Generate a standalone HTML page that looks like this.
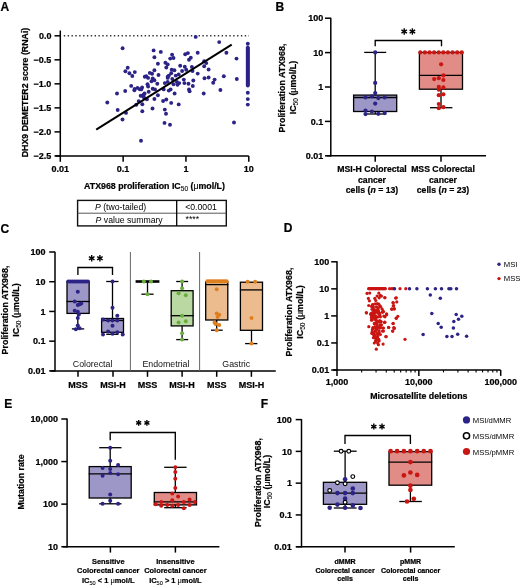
<!DOCTYPE html>
<html><head><meta charset="utf-8"><style>
html,body{margin:0;padding:0;background:#fff;}
svg{display:block;will-change:transform;font-family:"Liberation Sans", sans-serif;}
text[font-weight="bold"]{stroke:#000;stroke-width:0.22;}
tspan[font-weight="normal"]{stroke-width:0.08;}
</style></head><body>
<svg width="520" height="586" viewBox="0 0 520 586">
<rect width="520" height="586" fill="#fff"/>
<text x="0.50" y="10.50" font-size="12" font-weight="bold" text-anchor="start" fill="#000" >A</text>
<line x1="60.30" y1="30.50" x2="60.30" y2="156.60" stroke="#000" stroke-width="1.5" />
<line x1="55.40" y1="155.90" x2="248.80" y2="155.90" stroke="#000" stroke-width="1.5" />
<line x1="54.50" y1="35.80" x2="60.30" y2="35.80" stroke="#000" stroke-width="1.5" />
<text x="51.40" y="39.00" font-size="9.0" font-weight="bold" text-anchor="end" fill="#000" >0.0</text>
<line x1="54.50" y1="59.82" x2="60.30" y2="59.82" stroke="#000" stroke-width="1.5" />
<text x="51.40" y="63.02" font-size="9.0" font-weight="bold" text-anchor="end" fill="#000" >−0.5</text>
<line x1="54.50" y1="83.84" x2="60.30" y2="83.84" stroke="#000" stroke-width="1.5" />
<text x="51.40" y="87.04" font-size="9.0" font-weight="bold" text-anchor="end" fill="#000" >−1.0</text>
<line x1="54.50" y1="107.86" x2="60.30" y2="107.86" stroke="#000" stroke-width="1.5" />
<text x="51.40" y="111.06" font-size="9.0" font-weight="bold" text-anchor="end" fill="#000" >−1.5</text>
<line x1="54.50" y1="131.88" x2="60.30" y2="131.88" stroke="#000" stroke-width="1.5" />
<text x="51.40" y="135.08" font-size="9.0" font-weight="bold" text-anchor="end" fill="#000" >−2.0</text>
<line x1="54.50" y1="155.90" x2="60.30" y2="155.90" stroke="#000" stroke-width="1.5" />
<text x="51.40" y="159.10" font-size="9.0" font-weight="bold" text-anchor="end" fill="#000" >−2.5</text>
<line x1="60.30" y1="155.90" x2="60.30" y2="161.80" stroke="#000" stroke-width="1.5" />
<text x="60.30" y="172.00" font-size="9.0" font-weight="bold" text-anchor="middle" fill="#000" >0.01</text>
<line x1="123.13" y1="155.90" x2="123.13" y2="161.80" stroke="#000" stroke-width="1.5" />
<text x="123.13" y="172.00" font-size="9.0" font-weight="bold" text-anchor="middle" fill="#000" >0.1</text>
<line x1="185.96" y1="155.90" x2="185.96" y2="161.80" stroke="#000" stroke-width="1.5" />
<text x="185.96" y="172.00" font-size="9.0" font-weight="bold" text-anchor="middle" fill="#000" >1</text>
<line x1="248.79" y1="155.90" x2="248.79" y2="161.80" stroke="#000" stroke-width="1.5" />
<text x="248.79" y="172.00" font-size="9.0" font-weight="bold" text-anchor="middle" fill="#000" >10</text>
<text transform="translate(28.20,92.50) rotate(-90)" font-size="8.8" font-weight="bold" text-anchor="middle" fill="#000">DHX9 DEMETER2 score (RNAi)</text>
<text x="154.5" y="188.5" font-size="8.8" font-weight="bold" text-anchor="middle" fill="#000">ATX968 proliferation IC<tspan font-size="6.6" font-weight="normal" dy="2.4">50</tspan><tspan dy="-2.4"> (<tspan font-weight="normal">μ</tspan>mol/L)</tspan></text>
<line x1="63.8" y1="35.8" x2="249" y2="35.8" stroke="#333" stroke-width="1.5" stroke-dasharray="1.4 2.45"/>
<circle cx="122.60" cy="48.30" r="1.95" fill="#2c2387"/>
<circle cx="127.70" cy="67.70" r="1.95" fill="#2c2387"/>
<circle cx="125.40" cy="71.20" r="1.95" fill="#2c2387"/>
<circle cx="129.40" cy="73.20" r="1.95" fill="#2c2387"/>
<circle cx="132.30" cy="76.00" r="1.95" fill="#2c2387"/>
<circle cx="134.80" cy="72.10" r="1.95" fill="#2c2387"/>
<circle cx="144.80" cy="76.70" r="1.95" fill="#2c2387"/>
<circle cx="131.20" cy="85.90" r="1.95" fill="#2c2387"/>
<circle cx="125.20" cy="91.00" r="1.95" fill="#2c2387"/>
<circle cx="134.60" cy="89.00" r="1.95" fill="#2c2387"/>
<circle cx="137.50" cy="87.90" r="1.95" fill="#2c2387"/>
<circle cx="142.10" cy="87.50" r="1.95" fill="#2c2387"/>
<circle cx="134.40" cy="90.20" r="1.95" fill="#2c2387"/>
<circle cx="139.80" cy="89.20" r="1.95" fill="#2c2387"/>
<circle cx="117.00" cy="93.50" r="1.95" fill="#2c2387"/>
<circle cx="107.30" cy="102.50" r="1.95" fill="#2c2387"/>
<circle cx="140.70" cy="95.80" r="1.95" fill="#2c2387"/>
<circle cx="143.80" cy="94.40" r="1.95" fill="#2c2387"/>
<circle cx="138.70" cy="101.10" r="1.95" fill="#2c2387"/>
<circle cx="136.30" cy="104.80" r="1.95" fill="#2c2387"/>
<circle cx="142.30" cy="104.20" r="1.95" fill="#2c2387"/>
<circle cx="117.70" cy="110.00" r="1.95" fill="#2c2387"/>
<circle cx="126.00" cy="112.90" r="1.95" fill="#2c2387"/>
<circle cx="142.30" cy="111.20" r="1.95" fill="#2c2387"/>
<circle cx="122.50" cy="119.50" r="1.95" fill="#2c2387"/>
<circle cx="141.00" cy="140.80" r="1.95" fill="#2c2387"/>
<circle cx="195.70" cy="36.90" r="1.95" fill="#2c2387"/>
<circle cx="153.60" cy="50.40" r="1.95" fill="#2c2387"/>
<circle cx="160.80" cy="51.90" r="1.95" fill="#2c2387"/>
<circle cx="154.40" cy="57.30" r="1.95" fill="#2c2387"/>
<circle cx="172.10" cy="54.80" r="1.95" fill="#2c2387"/>
<circle cx="170.20" cy="58.60" r="1.95" fill="#2c2387"/>
<circle cx="173.50" cy="58.00" r="1.95" fill="#2c2387"/>
<circle cx="185.20" cy="54.20" r="1.95" fill="#2c2387"/>
<circle cx="187.90" cy="53.10" r="1.95" fill="#2c2387"/>
<circle cx="190.80" cy="57.70" r="1.95" fill="#2c2387"/>
<circle cx="189.00" cy="59.80" r="1.95" fill="#2c2387"/>
<circle cx="197.70" cy="52.80" r="1.95" fill="#2c2387"/>
<circle cx="157.90" cy="63.70" r="1.95" fill="#2c2387"/>
<circle cx="165.40" cy="62.70" r="1.95" fill="#2c2387"/>
<circle cx="167.70" cy="64.40" r="1.95" fill="#2c2387"/>
<circle cx="166.30" cy="67.50" r="1.95" fill="#2c2387"/>
<circle cx="154.40" cy="70.20" r="1.95" fill="#2c2387"/>
<circle cx="180.20" cy="65.80" r="1.95" fill="#2c2387"/>
<circle cx="184.80" cy="66.70" r="1.95" fill="#2c2387"/>
<circle cx="186.20" cy="69.80" r="1.95" fill="#2c2387"/>
<circle cx="191.90" cy="66.90" r="1.95" fill="#2c2387"/>
<circle cx="171.70" cy="69.80" r="1.95" fill="#2c2387"/>
<circle cx="174.40" cy="70.20" r="1.95" fill="#2c2387"/>
<circle cx="171.20" cy="73.30" r="1.95" fill="#2c2387"/>
<circle cx="149.80" cy="72.90" r="1.95" fill="#2c2387"/>
<circle cx="152.10" cy="73.80" r="1.95" fill="#2c2387"/>
<circle cx="158.50" cy="75.00" r="1.95" fill="#2c2387"/>
<circle cx="146.30" cy="76.20" r="1.95" fill="#2c2387"/>
<circle cx="148.10" cy="77.90" r="1.95" fill="#2c2387"/>
<circle cx="152.70" cy="78.50" r="1.95" fill="#2c2387"/>
<circle cx="167.70" cy="76.70" r="1.95" fill="#2c2387"/>
<circle cx="175.80" cy="75.60" r="1.95" fill="#2c2387"/>
<circle cx="178.70" cy="74.40" r="1.95" fill="#2c2387"/>
<circle cx="182.10" cy="71.00" r="1.95" fill="#2c2387"/>
<circle cx="197.70" cy="73.60" r="1.95" fill="#2c2387"/>
<circle cx="192.50" cy="71.00" r="1.95" fill="#2c2387"/>
<circle cx="183.80" cy="79.60" r="1.95" fill="#2c2387"/>
<circle cx="172.30" cy="79.00" r="1.95" fill="#2c2387"/>
<circle cx="154.40" cy="80.20" r="1.95" fill="#2c2387"/>
<circle cx="151.50" cy="81.30" r="1.95" fill="#2c2387"/>
<circle cx="157.30" cy="83.70" r="1.95" fill="#2c2387"/>
<circle cx="147.50" cy="84.20" r="1.95" fill="#2c2387"/>
<circle cx="148.10" cy="86.50" r="1.95" fill="#2c2387"/>
<circle cx="141.20" cy="89.40" r="1.95" fill="#2c2387"/>
<circle cx="148.70" cy="91.70" r="1.95" fill="#2c2387"/>
<circle cx="144.60" cy="93.50" r="1.95" fill="#2c2387"/>
<circle cx="142.30" cy="95.80" r="1.95" fill="#2c2387"/>
<circle cx="144.00" cy="97.50" r="1.95" fill="#2c2387"/>
<circle cx="152.70" cy="88.80" r="1.95" fill="#2c2387"/>
<circle cx="155.00" cy="89.40" r="1.95" fill="#2c2387"/>
<circle cx="157.90" cy="95.20" r="1.95" fill="#2c2387"/>
<circle cx="154.40" cy="99.00" r="1.95" fill="#2c2387"/>
<circle cx="146.90" cy="99.20" r="1.95" fill="#2c2387"/>
<circle cx="152.50" cy="108.50" r="1.95" fill="#2c2387"/>
<circle cx="163.70" cy="89.40" r="1.95" fill="#2c2387"/>
<circle cx="164.80" cy="83.10" r="1.95" fill="#2c2387"/>
<circle cx="167.70" cy="81.90" r="1.95" fill="#2c2387"/>
<circle cx="167.70" cy="77.90" r="1.95" fill="#2c2387"/>
<circle cx="173.50" cy="84.20" r="1.95" fill="#2c2387"/>
<circle cx="176.90" cy="81.90" r="1.95" fill="#2c2387"/>
<circle cx="179.20" cy="83.10" r="1.95" fill="#2c2387"/>
<circle cx="177.50" cy="84.80" r="1.95" fill="#2c2387"/>
<circle cx="184.40" cy="83.10" r="1.95" fill="#2c2387"/>
<circle cx="188.50" cy="83.70" r="1.95" fill="#2c2387"/>
<circle cx="193.30" cy="80.50" r="1.95" fill="#2c2387"/>
<circle cx="192.80" cy="86.00" r="1.95" fill="#2c2387"/>
<circle cx="189.00" cy="89.40" r="1.95" fill="#2c2387"/>
<circle cx="189.60" cy="91.20" r="1.95" fill="#2c2387"/>
<circle cx="168.80" cy="90.60" r="1.95" fill="#2c2387"/>
<circle cx="170.60" cy="89.40" r="1.95" fill="#2c2387"/>
<circle cx="174.60" cy="93.50" r="1.95" fill="#2c2387"/>
<circle cx="163.10" cy="101.00" r="1.95" fill="#2c2387"/>
<circle cx="166.30" cy="99.50" r="1.95" fill="#2c2387"/>
<circle cx="171.20" cy="102.90" r="1.95" fill="#2c2387"/>
<circle cx="178.70" cy="104.40" r="1.95" fill="#2c2387"/>
<circle cx="164.80" cy="109.60" r="1.95" fill="#2c2387"/>
<circle cx="166.00" cy="113.70" r="1.95" fill="#2c2387"/>
<circle cx="164.50" cy="122.90" r="1.95" fill="#2c2387"/>
<circle cx="170.00" cy="124.80" r="1.95" fill="#2c2387"/>
<circle cx="168.80" cy="75.60" r="1.95" fill="#2c2387"/>
<circle cx="219.20" cy="42.10" r="1.95" fill="#2c2387"/>
<circle cx="226.40" cy="52.70" r="1.95" fill="#2c2387"/>
<circle cx="236.50" cy="58.60" r="1.95" fill="#2c2387"/>
<circle cx="204.20" cy="61.20" r="1.95" fill="#2c2387"/>
<circle cx="206.30" cy="63.10" r="1.95" fill="#2c2387"/>
<circle cx="204.20" cy="66.30" r="1.95" fill="#2c2387"/>
<circle cx="208.60" cy="69.50" r="1.95" fill="#2c2387"/>
<circle cx="223.80" cy="76.20" r="1.95" fill="#2c2387"/>
<circle cx="204.50" cy="78.20" r="1.95" fill="#2c2387"/>
<circle cx="208.60" cy="77.50" r="1.95" fill="#2c2387"/>
<circle cx="214.60" cy="79.60" r="1.95" fill="#2c2387"/>
<circle cx="236.80" cy="79.00" r="1.95" fill="#2c2387"/>
<circle cx="213.20" cy="82.80" r="1.95" fill="#2c2387"/>
<circle cx="220.40" cy="90.00" r="1.95" fill="#2c2387"/>
<circle cx="203.70" cy="93.50" r="1.95" fill="#2c2387"/>
<circle cx="234.00" cy="122.50" r="1.95" fill="#2c2387"/>
<circle cx="247.80" cy="92.70" r="1.95" fill="#2c2387"/>
<circle cx="247.80" cy="99.10" r="1.95" fill="#2c2387"/>
<circle cx="247.80" cy="104.60" r="1.95" fill="#2c2387"/>
<circle cx="247.80" cy="43.70" r="1.95" fill="#2c2387"/>
<circle cx="247.80" cy="47.60" r="1.95" fill="#2c2387"/>
<circle cx="247.80" cy="48.60" r="1.95" fill="#2c2387"/>
<circle cx="247.80" cy="49.60" r="1.95" fill="#2c2387"/>
<circle cx="247.80" cy="50.60" r="1.95" fill="#2c2387"/>
<circle cx="247.80" cy="51.60" r="1.95" fill="#2c2387"/>
<circle cx="247.80" cy="52.60" r="1.95" fill="#2c2387"/>
<circle cx="247.80" cy="53.60" r="1.95" fill="#2c2387"/>
<circle cx="247.80" cy="54.60" r="1.95" fill="#2c2387"/>
<circle cx="247.80" cy="55.60" r="1.95" fill="#2c2387"/>
<circle cx="247.80" cy="56.60" r="1.95" fill="#2c2387"/>
<circle cx="247.80" cy="57.60" r="1.95" fill="#2c2387"/>
<circle cx="247.80" cy="58.60" r="1.95" fill="#2c2387"/>
<circle cx="247.80" cy="59.60" r="1.95" fill="#2c2387"/>
<circle cx="247.80" cy="60.60" r="1.95" fill="#2c2387"/>
<circle cx="247.80" cy="61.60" r="1.95" fill="#2c2387"/>
<circle cx="247.80" cy="62.60" r="1.95" fill="#2c2387"/>
<circle cx="247.80" cy="63.60" r="1.95" fill="#2c2387"/>
<circle cx="247.80" cy="64.60" r="1.95" fill="#2c2387"/>
<circle cx="247.80" cy="65.60" r="1.95" fill="#2c2387"/>
<circle cx="247.80" cy="66.60" r="1.95" fill="#2c2387"/>
<circle cx="247.80" cy="67.60" r="1.95" fill="#2c2387"/>
<circle cx="247.80" cy="68.60" r="1.95" fill="#2c2387"/>
<circle cx="247.80" cy="69.60" r="1.95" fill="#2c2387"/>
<circle cx="247.80" cy="70.60" r="1.95" fill="#2c2387"/>
<circle cx="247.80" cy="71.60" r="1.95" fill="#2c2387"/>
<circle cx="247.80" cy="72.60" r="1.95" fill="#2c2387"/>
<circle cx="247.80" cy="73.60" r="1.95" fill="#2c2387"/>
<circle cx="247.80" cy="74.60" r="1.95" fill="#2c2387"/>
<circle cx="247.80" cy="75.60" r="1.95" fill="#2c2387"/>
<circle cx="247.80" cy="76.60" r="1.95" fill="#2c2387"/>
<circle cx="247.80" cy="77.60" r="1.95" fill="#2c2387"/>
<circle cx="247.80" cy="78.60" r="1.95" fill="#2c2387"/>
<circle cx="247.80" cy="79.60" r="1.95" fill="#2c2387"/>
<circle cx="247.80" cy="80.60" r="1.95" fill="#2c2387"/>
<circle cx="247.80" cy="81.60" r="1.95" fill="#2c2387"/>
<circle cx="247.80" cy="82.60" r="1.95" fill="#2c2387"/>
<circle cx="247.80" cy="83.60" r="1.95" fill="#2c2387"/>
<circle cx="247.80" cy="84.60" r="1.95" fill="#2c2387"/>
<circle cx="247.80" cy="85.60" r="1.95" fill="#2c2387"/>
<line x1="96.20" y1="129.60" x2="231.70" y2="44.70" stroke="#000" stroke-width="2.0" />
<rect x="77.6" y="200.4" width="148.7" height="25.5" fill="none" stroke="#111" stroke-width="1.4"/>
<line x1="77.60" y1="213.20" x2="226.30" y2="213.20" stroke="#444" stroke-width="0.9" />
<line x1="176.70" y1="200.40" x2="176.70" y2="225.90" stroke="#000" stroke-width="1.3" />
<text x="95" y="210.3" font-size="8.7" text-anchor="start" fill="#000"><tspan font-style="italic">P</tspan> (two-tailed)</text>
<text x="95.6" y="223" font-size="8.7" text-anchor="start" fill="#000"><tspan font-style="italic">P</tspan> value summary</text>
<text x="201.00" y="210.30" font-size="8.7" font-weight="normal" text-anchor="middle" fill="#000" >&lt;0.0001</text>
<text x="185.50" y="221.50" font-size="8.7" font-weight="normal" text-anchor="start" fill="#000" >****</text>
<text x="275.50" y="10.50" font-size="12" font-weight="bold" text-anchor="start" fill="#000" >B</text>
<line x1="330.80" y1="17.70" x2="330.80" y2="156.50" stroke="#000" stroke-width="1.5" />
<line x1="327.00" y1="155.80" x2="486.00" y2="155.80" stroke="#000" stroke-width="1.5" />
<line x1="325.00" y1="18.20" x2="330.80" y2="18.20" stroke="#000" stroke-width="1.5" />
<text x="323.30" y="21.40" font-size="9.0" font-weight="bold" text-anchor="end" fill="#000" >100</text>
<line x1="325.00" y1="52.60" x2="330.80" y2="52.60" stroke="#000" stroke-width="1.5" />
<text x="323.30" y="55.80" font-size="9.0" font-weight="bold" text-anchor="end" fill="#000" >10</text>
<line x1="325.00" y1="87.00" x2="330.80" y2="87.00" stroke="#000" stroke-width="1.5" />
<text x="323.30" y="90.20" font-size="9.0" font-weight="bold" text-anchor="end" fill="#000" >1</text>
<line x1="325.00" y1="121.40" x2="330.80" y2="121.40" stroke="#000" stroke-width="1.5" />
<text x="323.30" y="124.60" font-size="9.0" font-weight="bold" text-anchor="end" fill="#000" >0.1</text>
<line x1="325.00" y1="155.80" x2="330.80" y2="155.80" stroke="#000" stroke-width="1.5" />
<text x="323.30" y="159.00" font-size="9.0" font-weight="bold" text-anchor="end" fill="#000" >0.01</text>
<line x1="375.20" y1="155.80" x2="375.20" y2="161.70" stroke="#000" stroke-width="1.5" />
<line x1="441.00" y1="155.80" x2="441.00" y2="161.70" stroke="#000" stroke-width="1.5" />
<text transform="translate(285.10,88.00) rotate(-90)" font-size="8.9" font-weight="bold" text-anchor="middle" fill="#000">Proliferation ATX968,</text>
<text transform="translate(295.5,87.6) rotate(-90)" font-size="8.9" font-weight="bold" text-anchor="middle" fill="#000">IC<tspan font-size="6.6" font-weight="normal" dy="2.4">50</tspan><tspan dy="-2.4"> (<tspan font-weight="normal">μ</tspan>mol/L)</tspan></text>
<text x="372.00" y="172.00" font-size="8.7" font-weight="bold" text-anchor="middle" fill="#000" >MSI-H Colorectal</text>
<text x="372.00" y="182.70" font-size="8.7" font-weight="bold" text-anchor="middle" fill="#000" >cancer</text>
<text x="372" y="192.7" font-size="8.7" font-weight="bold" text-anchor="middle" fill="#000">cells (<tspan font-style="italic">n</tspan> = 13)</text>
<text x="443.00" y="172.00" font-size="8.7" font-weight="bold" text-anchor="middle" fill="#000" >MSS Colorectal</text>
<text x="443.00" y="182.70" font-size="8.7" font-weight="bold" text-anchor="middle" fill="#000" >cancer</text>
<text x="443" y="192.7" font-size="8.7" font-weight="bold" text-anchor="middle" fill="#000">cells (<tspan font-style="italic">n</tspan> = 23)</text>
<line x1="375.20" y1="52.40" x2="375.20" y2="95.10" stroke="#000" stroke-width="1.3" />
<line x1="364.20" y1="52.40" x2="386.20" y2="52.40" stroke="#000" stroke-width="1.3" />
<line x1="375.20" y1="111.50" x2="375.20" y2="114.00" stroke="#000" stroke-width="1.3" />
<line x1="364.20" y1="114.00" x2="386.20" y2="114.00" stroke="#000" stroke-width="1.3" />
<rect x="353.60" y="95.10" width="43.10" height="16.40" fill="#9d97c7" stroke="#000" stroke-width="1.3"/>
<line x1="353.10" y1="97.50" x2="397.20" y2="97.50" stroke="#000" stroke-width="1.3" />
<circle cx="375.20" cy="52.40" r="2.1" fill="#2c2387"/>
<circle cx="375.20" cy="82.90" r="2.1" fill="#2c2387"/>
<circle cx="375.20" cy="93.10" r="2.1" fill="#2c2387"/>
<circle cx="365.50" cy="97.40" r="2.1" fill="#2c2387"/>
<circle cx="371.90" cy="96.40" r="2.1" fill="#2c2387"/>
<circle cx="378.30" cy="98.10" r="2.1" fill="#2c2387"/>
<circle cx="384.70" cy="97.40" r="2.1" fill="#2c2387"/>
<circle cx="375.20" cy="103.60" r="2.1" fill="#2c2387"/>
<circle cx="365.50" cy="110.50" r="2.1" fill="#2c2387"/>
<circle cx="371.90" cy="111.50" r="2.1" fill="#2c2387"/>
<circle cx="365.50" cy="114.10" r="2.1" fill="#2c2387"/>
<circle cx="378.30" cy="113.80" r="2.1" fill="#2c2387"/>
<circle cx="384.70" cy="113.10" r="2.1" fill="#2c2387"/>
<line x1="441.00" y1="89.20" x2="441.00" y2="107.70" stroke="#000" stroke-width="1.3" />
<line x1="430.00" y1="107.70" x2="452.40" y2="107.70" stroke="#000" stroke-width="1.3" />
<rect x="419.40" y="52.40" width="43.10" height="36.80" fill="#e28c87" stroke="#000" stroke-width="1.3"/>
<line x1="418.90" y1="75.40" x2="463.00" y2="75.40" stroke="#000" stroke-width="1.3" />
<circle cx="420.30" cy="52.40" r="2.1" fill="#c91613"/>
<circle cx="424.91" cy="52.40" r="2.1" fill="#c91613"/>
<circle cx="429.52" cy="52.40" r="2.1" fill="#c91613"/>
<circle cx="434.13" cy="52.40" r="2.1" fill="#c91613"/>
<circle cx="438.74" cy="52.40" r="2.1" fill="#c91613"/>
<circle cx="443.35" cy="52.40" r="2.1" fill="#c91613"/>
<circle cx="447.96" cy="52.40" r="2.1" fill="#c91613"/>
<circle cx="452.57" cy="52.40" r="2.1" fill="#c91613"/>
<circle cx="457.18" cy="52.40" r="2.1" fill="#c91613"/>
<circle cx="461.79" cy="52.40" r="2.1" fill="#c91613"/>
<circle cx="441.10" cy="64.30" r="2.1" fill="#c91613"/>
<circle cx="434.20" cy="79.10" r="2.1" fill="#c91613"/>
<circle cx="438.80" cy="78.20" r="2.1" fill="#c91613"/>
<circle cx="443.40" cy="75.40" r="2.1" fill="#c91613"/>
<circle cx="443.40" cy="80.00" r="2.1" fill="#c91613"/>
<circle cx="438.80" cy="86.90" r="2.1" fill="#c91613"/>
<circle cx="443.40" cy="87.40" r="2.1" fill="#c91613"/>
<circle cx="438.80" cy="89.70" r="2.1" fill="#c91613"/>
<circle cx="438.80" cy="95.20" r="2.1" fill="#c91613"/>
<circle cx="443.40" cy="94.30" r="2.1" fill="#c91613"/>
<circle cx="438.80" cy="104.00" r="2.1" fill="#c91613"/>
<circle cx="443.40" cy="107.20" r="2.1" fill="#c91613"/>
<circle cx="438.80" cy="108.20" r="2.1" fill="#c91613"/>
<polyline points="375.20,46.30 375.20,40.50 441.50,40.50 441.50,46.30" fill="none" stroke="#000" stroke-width="1.35"/>
<line x1="404.20" y1="28.30" x2="404.20" y2="34.70" stroke="#000" stroke-width="1.4" />
<line x1="401.43" y1="29.90" x2="406.97" y2="33.10" stroke="#000" stroke-width="1.4" />
<line x1="401.43" y1="33.10" x2="406.97" y2="29.90" stroke="#000" stroke-width="1.4" />
<line x1="412.40" y1="28.30" x2="412.40" y2="34.70" stroke="#000" stroke-width="1.4" />
<line x1="409.63" y1="29.90" x2="415.17" y2="33.10" stroke="#000" stroke-width="1.4" />
<line x1="409.63" y1="33.10" x2="415.17" y2="29.90" stroke="#000" stroke-width="1.4" />
<text x="0.50" y="232.50" font-size="12" font-weight="bold" text-anchor="start" fill="#000" >C</text>
<line x1="55.00" y1="251.80" x2="55.00" y2="371.60" stroke="#000" stroke-width="1.5" />
<line x1="50.50" y1="370.90" x2="275.80" y2="370.90" stroke="#000" stroke-width="1.5" />
<line x1="49.20" y1="252.00" x2="55.00" y2="252.00" stroke="#000" stroke-width="1.5" />
<text x="45.60" y="255.20" font-size="9.0" font-weight="bold" text-anchor="end" fill="#000" >100</text>
<line x1="49.20" y1="281.72" x2="55.00" y2="281.72" stroke="#000" stroke-width="1.5" />
<text x="45.60" y="284.92" font-size="9.0" font-weight="bold" text-anchor="end" fill="#000" >10</text>
<line x1="49.20" y1="311.44" x2="55.00" y2="311.44" stroke="#000" stroke-width="1.5" />
<text x="45.60" y="314.64" font-size="9.0" font-weight="bold" text-anchor="end" fill="#000" >1</text>
<line x1="49.20" y1="341.16" x2="55.00" y2="341.16" stroke="#000" stroke-width="1.5" />
<text x="45.60" y="344.36" font-size="9.0" font-weight="bold" text-anchor="end" fill="#000" >0.1</text>
<line x1="49.20" y1="370.88" x2="55.00" y2="370.88" stroke="#000" stroke-width="1.5" />
<text x="45.60" y="374.08" font-size="9.0" font-weight="bold" text-anchor="end" fill="#000" >0.01</text>
<line x1="78.00" y1="370.90" x2="78.00" y2="376.80" stroke="#000" stroke-width="1.5" />
<text x="78.00" y="388.20" font-size="9.0" font-weight="bold" text-anchor="middle" fill="#000" >MSS</text>
<line x1="113.00" y1="370.90" x2="113.00" y2="376.80" stroke="#000" stroke-width="1.5" />
<text x="113.00" y="388.20" font-size="9.0" font-weight="bold" text-anchor="middle" fill="#000" >MSI-H</text>
<line x1="147.50" y1="370.90" x2="147.50" y2="376.80" stroke="#000" stroke-width="1.5" />
<text x="147.50" y="388.20" font-size="9.0" font-weight="bold" text-anchor="middle" fill="#000" >MSS</text>
<line x1="182.10" y1="370.90" x2="182.10" y2="376.80" stroke="#000" stroke-width="1.5" />
<text x="182.10" y="388.20" font-size="9.0" font-weight="bold" text-anchor="middle" fill="#000" >MSI-H</text>
<line x1="216.70" y1="370.90" x2="216.70" y2="376.80" stroke="#000" stroke-width="1.5" />
<text x="216.70" y="388.20" font-size="9.0" font-weight="bold" text-anchor="middle" fill="#000" >MSS</text>
<line x1="251.40" y1="370.90" x2="251.40" y2="376.80" stroke="#000" stroke-width="1.5" />
<text x="251.40" y="388.20" font-size="9.0" font-weight="bold" text-anchor="middle" fill="#000" >MSI-H</text>
<line x1="130.40" y1="252.00" x2="130.40" y2="370.90" stroke="#666" stroke-width="1.0" />
<line x1="199.60" y1="252.00" x2="199.60" y2="370.90" stroke="#666" stroke-width="1.0" />
<text x="92.60" y="367.40" font-size="8.8" font-weight="normal" text-anchor="middle" fill="#111" >Colorectal</text>
<text x="165.90" y="367.40" font-size="8.8" font-weight="normal" text-anchor="middle" fill="#111" >Endometrial</text>
<text x="236.30" y="367.40" font-size="8.8" font-weight="normal" text-anchor="middle" fill="#111" >Gastric</text>
<text transform="translate(7.60,310.00) rotate(-90)" font-size="8.9" font-weight="bold" text-anchor="middle" fill="#000">Proliferation ATX968,</text>
<text transform="translate(18.5,310) rotate(-90)" font-size="8.9" font-weight="bold" text-anchor="middle" fill="#000">IC<tspan font-size="6.6" font-weight="normal" dy="2.4">50</tspan><tspan dy="-2.4"> (<tspan font-weight="normal">μ</tspan>mol/L)</tspan></text>
<line x1="77.80" y1="313.40" x2="77.80" y2="328.90" stroke="#000" stroke-width="1.3" />
<line x1="71.90" y1="328.90" x2="84.20" y2="328.90" stroke="#000" stroke-width="1.3" />
<rect x="67.00" y="281.50" width="22.15" height="31.90" fill="#9d97c7" stroke="#000" stroke-width="1.3"/>
<line x1="66.50" y1="301.50" x2="89.65" y2="301.50" stroke="#000" stroke-width="1.3" />
<circle cx="68.30" cy="281.40" r="2.0" fill="#2c2387"/>
<circle cx="70.26" cy="281.40" r="2.0" fill="#2c2387"/>
<circle cx="72.22" cy="281.40" r="2.0" fill="#2c2387"/>
<circle cx="74.18" cy="281.40" r="2.0" fill="#2c2387"/>
<circle cx="76.14" cy="281.40" r="2.0" fill="#2c2387"/>
<circle cx="78.10" cy="281.40" r="2.0" fill="#2c2387"/>
<circle cx="80.06" cy="281.40" r="2.0" fill="#2c2387"/>
<circle cx="82.02" cy="281.40" r="2.0" fill="#2c2387"/>
<circle cx="83.98" cy="281.40" r="2.0" fill="#2c2387"/>
<circle cx="85.94" cy="281.40" r="2.0" fill="#2c2387"/>
<circle cx="87.90" cy="281.40" r="2.0" fill="#2c2387"/>
<circle cx="77.80" cy="291.80" r="2.0" fill="#2c2387"/>
<circle cx="74.70" cy="301.50" r="2.0" fill="#2c2387"/>
<circle cx="77.80" cy="305.10" r="2.0" fill="#2c2387"/>
<circle cx="81.20" cy="303.50" r="2.0" fill="#2c2387"/>
<circle cx="79.60" cy="304.20" r="2.0" fill="#2c2387"/>
<circle cx="74.70" cy="310.80" r="2.0" fill="#2c2387"/>
<circle cx="77.80" cy="311.80" r="2.0" fill="#2c2387"/>
<circle cx="78.80" cy="314.60" r="2.0" fill="#2c2387"/>
<circle cx="77.80" cy="318.00" r="2.0" fill="#2c2387"/>
<circle cx="77.80" cy="325.40" r="2.0" fill="#2c2387"/>
<circle cx="75.80" cy="329.20" r="2.0" fill="#2c2387"/>
<circle cx="79.60" cy="328.20" r="2.0" fill="#2c2387"/>
<line x1="112.50" y1="281.50" x2="112.50" y2="318.50" stroke="#000" stroke-width="1.3" />
<line x1="106.20" y1="281.50" x2="118.50" y2="281.50" stroke="#000" stroke-width="1.3" />
<line x1="112.50" y1="332.30" x2="112.50" y2="334.30" stroke="#000" stroke-width="1.3" />
<line x1="106.20" y1="334.30" x2="118.50" y2="334.30" stroke="#000" stroke-width="1.3" />
<rect x="101.60" y="318.50" width="21.90" height="13.80" fill="#9d97c7" stroke="#000" stroke-width="1.3"/>
<line x1="101.10" y1="320.50" x2="124.00" y2="320.50" stroke="#000" stroke-width="1.3" />
<circle cx="112.50" cy="281.50" r="2.0" fill="#2c2387"/>
<circle cx="112.50" cy="307.70" r="2.0" fill="#2c2387"/>
<circle cx="117.30" cy="315.80" r="2.0" fill="#2c2387"/>
<circle cx="103.00" cy="319.50" r="2.0" fill="#2c2387"/>
<circle cx="108.10" cy="320.50" r="2.0" fill="#2c2387"/>
<circle cx="112.50" cy="320.50" r="2.0" fill="#2c2387"/>
<circle cx="117.30" cy="320.50" r="2.0" fill="#2c2387"/>
<circle cx="112.50" cy="325.70" r="2.0" fill="#2c2387"/>
<circle cx="108.10" cy="331.50" r="2.0" fill="#2c2387"/>
<circle cx="117.30" cy="332.30" r="2.0" fill="#2c2387"/>
<circle cx="103.00" cy="334.60" r="2.0" fill="#2c2387"/>
<circle cx="112.50" cy="333.80" r="2.0" fill="#2c2387"/>
<circle cx="122.70" cy="334.60" r="2.0" fill="#2c2387"/>
<polyline points="77.90,274.90 77.90,267.50 112.50,267.50 112.50,274.90" fill="none" stroke="#000" stroke-width="1.35"/>
<line x1="91.70" y1="255.10" x2="91.70" y2="261.50" stroke="#000" stroke-width="1.4" />
<line x1="88.93" y1="256.70" x2="94.47" y2="259.90" stroke="#000" stroke-width="1.4" />
<line x1="88.93" y1="259.90" x2="94.47" y2="256.70" stroke="#000" stroke-width="1.4" />
<line x1="99.90" y1="255.10" x2="99.90" y2="261.50" stroke="#000" stroke-width="1.4" />
<line x1="97.13" y1="256.70" x2="102.67" y2="259.90" stroke="#000" stroke-width="1.4" />
<line x1="97.13" y1="259.90" x2="102.67" y2="256.70" stroke="#000" stroke-width="1.4" />
<line x1="147.50" y1="281.50" x2="147.50" y2="294.20" stroke="#000" stroke-width="1.3" />
<line x1="141.40" y1="294.20" x2="153.60" y2="294.20" stroke="#000" stroke-width="1.3" />
<line x1="135.60" y1="281.50" x2="159.40" y2="281.50" stroke="#000" stroke-width="2.6" />
<circle cx="143.80" cy="281.50" r="2.0" fill="#6aae3e"/>
<circle cx="151.00" cy="281.50" r="2.0" fill="#6aae3e"/>
<circle cx="147.50" cy="294.20" r="2.0" fill="#6aae3e"/>
<line x1="182.10" y1="281.50" x2="182.10" y2="290.70" stroke="#000" stroke-width="1.3" />
<line x1="176.20" y1="281.50" x2="188.20" y2="281.50" stroke="#000" stroke-width="1.3" />
<line x1="182.10" y1="325.90" x2="182.10" y2="339.60" stroke="#000" stroke-width="1.3" />
<line x1="176.20" y1="339.60" x2="188.20" y2="339.60" stroke="#000" stroke-width="1.3" />
<rect x="171.20" y="290.70" width="21.90" height="35.20" fill="#bad8a2" stroke="#000" stroke-width="1.3"/>
<line x1="170.70" y1="315.70" x2="193.60" y2="315.70" stroke="#000" stroke-width="1.3" />
<circle cx="182.10" cy="281.50" r="2.0" fill="#6aae3e"/>
<circle cx="182.10" cy="288.30" r="2.0" fill="#6aae3e"/>
<circle cx="178.60" cy="293.20" r="2.0" fill="#6aae3e"/>
<circle cx="185.80" cy="295.20" r="2.0" fill="#6aae3e"/>
<circle cx="182.10" cy="315.70" r="2.0" fill="#6aae3e"/>
<circle cx="178.60" cy="322.50" r="2.0" fill="#6aae3e"/>
<circle cx="185.80" cy="321.20" r="2.0" fill="#6aae3e"/>
<circle cx="182.10" cy="333.30" r="2.0" fill="#6aae3e"/>
<circle cx="182.10" cy="339.60" r="2.0" fill="#6aae3e"/>
<line x1="216.70" y1="320.00" x2="216.70" y2="330.20" stroke="#000" stroke-width="1.3" />
<line x1="211.00" y1="330.20" x2="222.70" y2="330.20" stroke="#000" stroke-width="1.3" />
<rect x="205.70" y="281.60" width="22.10" height="38.40" fill="#ecbb8e" stroke="#000" stroke-width="1.3"/>
<line x1="205.20" y1="284.60" x2="228.30" y2="284.60" stroke="#000" stroke-width="1.3" />
<circle cx="207.40" cy="281.20" r="2.0" fill="#e07f1f"/>
<circle cx="209.32" cy="281.20" r="2.0" fill="#e07f1f"/>
<circle cx="211.24" cy="281.20" r="2.0" fill="#e07f1f"/>
<circle cx="213.16" cy="281.20" r="2.0" fill="#e07f1f"/>
<circle cx="215.08" cy="281.20" r="2.0" fill="#e07f1f"/>
<circle cx="217.00" cy="281.20" r="2.0" fill="#e07f1f"/>
<circle cx="218.92" cy="281.20" r="2.0" fill="#e07f1f"/>
<circle cx="220.84" cy="281.20" r="2.0" fill="#e07f1f"/>
<circle cx="222.76" cy="281.20" r="2.0" fill="#e07f1f"/>
<circle cx="224.68" cy="281.20" r="2.0" fill="#e07f1f"/>
<circle cx="226.60" cy="281.20" r="2.0" fill="#e07f1f"/>
<circle cx="216.70" cy="289.20" r="2.0" fill="#e07f1f"/>
<circle cx="216.70" cy="313.40" r="2.0" fill="#e07f1f"/>
<circle cx="219.20" cy="314.80" r="2.0" fill="#e07f1f"/>
<circle cx="217.60" cy="316.90" r="2.0" fill="#e07f1f"/>
<circle cx="214.50" cy="322.40" r="2.0" fill="#e07f1f"/>
<circle cx="219.20" cy="325.10" r="2.0" fill="#e07f1f"/>
<circle cx="216.70" cy="330.20" r="2.0" fill="#e07f1f"/>
<circle cx="215.50" cy="324.10" r="2.0" fill="#e07f1f"/>
<line x1="251.50" y1="330.30" x2="251.50" y2="343.60" stroke="#000" stroke-width="1.3" />
<line x1="245.10" y1="343.60" x2="257.40" y2="343.60" stroke="#000" stroke-width="1.3" />
<rect x="240.40" y="282.20" width="22.10" height="48.10" fill="#ecbb8e" stroke="#000" stroke-width="1.3"/>
<line x1="239.90" y1="289.90" x2="263.00" y2="289.90" stroke="#000" stroke-width="1.3" />
<circle cx="247.70" cy="281.70" r="2.0" fill="#e07f1f"/>
<circle cx="255.20" cy="281.70" r="2.0" fill="#e07f1f"/>
<circle cx="251.50" cy="318.00" r="2.0" fill="#e07f1f"/>
<circle cx="251.50" cy="343.60" r="2.0" fill="#e07f1f"/>
<text x="283.80" y="232.30" font-size="12" font-weight="bold" text-anchor="start" fill="#000" >D</text>
<line x1="337.00" y1="261.30" x2="337.00" y2="370.70" stroke="#000" stroke-width="1.5" />
<line x1="333.00" y1="370.00" x2="500.70" y2="370.00" stroke="#000" stroke-width="1.5" />
<line x1="331.20" y1="261.80" x2="337.00" y2="261.80" stroke="#000" stroke-width="1.5" />
<text x="329.20" y="265.00" font-size="9.0" font-weight="bold" text-anchor="end" fill="#000" >100</text>
<line x1="331.20" y1="288.85" x2="337.00" y2="288.85" stroke="#000" stroke-width="1.5" />
<text x="329.20" y="292.05" font-size="9.0" font-weight="bold" text-anchor="end" fill="#000" >10</text>
<line x1="331.20" y1="315.90" x2="337.00" y2="315.90" stroke="#000" stroke-width="1.5" />
<text x="329.20" y="319.10" font-size="9.0" font-weight="bold" text-anchor="end" fill="#000" >1</text>
<line x1="331.20" y1="342.95" x2="337.00" y2="342.95" stroke="#000" stroke-width="1.5" />
<text x="329.20" y="346.15" font-size="9.0" font-weight="bold" text-anchor="end" fill="#000" >0.1</text>
<line x1="331.20" y1="370.00" x2="337.00" y2="370.00" stroke="#000" stroke-width="1.5" />
<text x="329.20" y="373.20" font-size="9.0" font-weight="bold" text-anchor="end" fill="#000" >0.01</text>
<line x1="337.00" y1="370.00" x2="337.00" y2="375.90" stroke="#000" stroke-width="1.5" />
<line x1="361.64" y1="370.00" x2="361.64" y2="372.40" stroke="#000" stroke-width="1.1" />
<line x1="376.05" y1="370.00" x2="376.05" y2="372.40" stroke="#000" stroke-width="1.1" />
<line x1="386.28" y1="370.00" x2="386.28" y2="372.40" stroke="#000" stroke-width="1.1" />
<line x1="394.21" y1="370.00" x2="394.21" y2="372.40" stroke="#000" stroke-width="1.1" />
<line x1="400.69" y1="370.00" x2="400.69" y2="372.40" stroke="#000" stroke-width="1.1" />
<line x1="406.17" y1="370.00" x2="406.17" y2="372.40" stroke="#000" stroke-width="1.1" />
<line x1="410.92" y1="370.00" x2="410.92" y2="372.40" stroke="#000" stroke-width="1.1" />
<line x1="415.10" y1="370.00" x2="415.10" y2="372.40" stroke="#000" stroke-width="1.1" />
<line x1="418.85" y1="370.00" x2="418.85" y2="375.90" stroke="#000" stroke-width="1.5" />
<line x1="443.49" y1="370.00" x2="443.49" y2="372.40" stroke="#000" stroke-width="1.1" />
<line x1="457.90" y1="370.00" x2="457.90" y2="372.40" stroke="#000" stroke-width="1.1" />
<line x1="468.13" y1="370.00" x2="468.13" y2="372.40" stroke="#000" stroke-width="1.1" />
<line x1="476.06" y1="370.00" x2="476.06" y2="372.40" stroke="#000" stroke-width="1.1" />
<line x1="482.54" y1="370.00" x2="482.54" y2="372.40" stroke="#000" stroke-width="1.1" />
<line x1="488.02" y1="370.00" x2="488.02" y2="372.40" stroke="#000" stroke-width="1.1" />
<line x1="492.77" y1="370.00" x2="492.77" y2="372.40" stroke="#000" stroke-width="1.1" />
<line x1="496.95" y1="370.00" x2="496.95" y2="372.40" stroke="#000" stroke-width="1.1" />
<line x1="500.70" y1="370.00" x2="500.70" y2="375.90" stroke="#000" stroke-width="1.5" />
<text x="337.00" y="385.40" font-size="9.0" font-weight="bold" text-anchor="middle" fill="#000" >1,000</text>
<text x="418.85" y="385.40" font-size="9.0" font-weight="bold" text-anchor="middle" fill="#000" >10,000</text>
<text x="500.70" y="385.40" font-size="9.0" font-weight="bold" text-anchor="middle" fill="#000" >100,000</text>
<text x="418.80" y="399.00" font-size="8.8" font-weight="bold" text-anchor="middle" fill="#000" >Microsatellite deletions</text>
<text transform="translate(292.00,312.00) rotate(-90)" font-size="8.9" font-weight="bold" text-anchor="middle" fill="#000">Proliferation ATX968,</text>
<text transform="translate(302.6,312) rotate(-90)" font-size="8.9" font-weight="bold" text-anchor="middle" fill="#000">IC<tspan font-size="6.6" font-weight="normal" dy="2.4">50</tspan><tspan dy="-2.4"> (<tspan font-weight="normal">μ</tspan>mol/L)</tspan></text>
<circle cx="499.00" cy="264.20" r="1.7" fill="#2c2387"/>
<text x="503.80" y="267.00" font-size="7.7" font-weight="normal" text-anchor="start" fill="#000" >MSI</text>
<circle cx="499.00" cy="278.60" r="1.7" fill="#c91613"/>
<text x="503.80" y="281.40" font-size="7.7" font-weight="normal" text-anchor="start" fill="#000" >MSS</text>
<circle cx="368.60" cy="288.70" r="1.6" fill="#c91613"/>
<circle cx="369.40" cy="288.70" r="1.6" fill="#c91613"/>
<circle cx="370.20" cy="288.70" r="1.6" fill="#c91613"/>
<circle cx="371.00" cy="288.70" r="1.6" fill="#c91613"/>
<circle cx="371.80" cy="288.70" r="1.6" fill="#c91613"/>
<circle cx="372.60" cy="288.70" r="1.6" fill="#c91613"/>
<circle cx="373.40" cy="288.70" r="1.6" fill="#c91613"/>
<circle cx="374.20" cy="288.70" r="1.6" fill="#c91613"/>
<circle cx="375.00" cy="288.70" r="1.6" fill="#c91613"/>
<circle cx="375.80" cy="288.70" r="1.6" fill="#c91613"/>
<circle cx="376.60" cy="288.70" r="1.6" fill="#c91613"/>
<circle cx="377.40" cy="288.70" r="1.6" fill="#c91613"/>
<circle cx="378.20" cy="288.70" r="1.6" fill="#c91613"/>
<circle cx="379.00" cy="288.70" r="1.6" fill="#c91613"/>
<circle cx="379.80" cy="288.70" r="1.6" fill="#c91613"/>
<circle cx="380.60" cy="288.70" r="1.6" fill="#c91613"/>
<circle cx="381.40" cy="288.70" r="1.6" fill="#c91613"/>
<circle cx="382.20" cy="288.70" r="1.6" fill="#c91613"/>
<circle cx="383.00" cy="288.70" r="1.6" fill="#c91613"/>
<circle cx="383.80" cy="288.70" r="1.6" fill="#c91613"/>
<circle cx="384.60" cy="288.70" r="1.6" fill="#c91613"/>
<circle cx="385.40" cy="288.70" r="1.6" fill="#c91613"/>
<circle cx="389.60" cy="288.70" r="1.6" fill="#c91613"/>
<circle cx="391.80" cy="288.70" r="1.6" fill="#c91613"/>
<circle cx="393.20" cy="288.70" r="1.6" fill="#c91613"/>
<circle cx="400.00" cy="288.70" r="1.6" fill="#c91613"/>
<circle cx="405.80" cy="288.70" r="1.6" fill="#c91613"/>
<circle cx="367.00" cy="293.40" r="1.6" fill="#c91613"/>
<circle cx="369.70" cy="293.10" r="1.6" fill="#c91613"/>
<circle cx="368.40" cy="298.40" r="1.6" fill="#c91613"/>
<circle cx="369.40" cy="300.80" r="1.6" fill="#c91613"/>
<circle cx="368.70" cy="305.50" r="1.6" fill="#c91613"/>
<circle cx="366.40" cy="312.60" r="1.6" fill="#c91613"/>
<circle cx="374.80" cy="298.40" r="1.6" fill="#c91613"/>
<circle cx="375.80" cy="300.50" r="1.6" fill="#c91613"/>
<circle cx="377.10" cy="296.10" r="1.6" fill="#c91613"/>
<circle cx="378.80" cy="293.10" r="1.6" fill="#c91613"/>
<circle cx="380.20" cy="295.40" r="1.6" fill="#c91613"/>
<circle cx="379.20" cy="297.80" r="1.6" fill="#c91613"/>
<circle cx="381.50" cy="296.10" r="1.6" fill="#c91613"/>
<circle cx="384.90" cy="297.80" r="1.6" fill="#c91613"/>
<circle cx="372.80" cy="304.50" r="1.6" fill="#c91613"/>
<circle cx="375.10" cy="303.80" r="1.6" fill="#c91613"/>
<circle cx="378.80" cy="304.20" r="1.6" fill="#c91613"/>
<circle cx="373.40" cy="306.90" r="1.6" fill="#c91613"/>
<circle cx="376.50" cy="306.90" r="1.6" fill="#c91613"/>
<circle cx="380.80" cy="306.90" r="1.6" fill="#c91613"/>
<circle cx="373.40" cy="309.60" r="1.6" fill="#c91613"/>
<circle cx="378.20" cy="310.20" r="1.6" fill="#c91613"/>
<circle cx="382.20" cy="309.20" r="1.6" fill="#c91613"/>
<circle cx="382.90" cy="311.60" r="1.6" fill="#c91613"/>
<circle cx="372.10" cy="312.90" r="1.6" fill="#c91613"/>
<circle cx="375.50" cy="312.20" r="1.6" fill="#c91613"/>
<circle cx="379.50" cy="312.90" r="1.6" fill="#c91613"/>
<circle cx="370.70" cy="314.30" r="1.6" fill="#c91613"/>
<circle cx="386.60" cy="313.90" r="1.6" fill="#c91613"/>
<circle cx="393.00" cy="302.50" r="1.6" fill="#c91613"/>
<circle cx="393.60" cy="305.50" r="1.6" fill="#c91613"/>
<circle cx="391.90" cy="309.20" r="1.6" fill="#c91613"/>
<circle cx="394.30" cy="308.50" r="1.6" fill="#c91613"/>
<circle cx="395.60" cy="298.10" r="1.6" fill="#c91613"/>
<circle cx="366.40" cy="313.00" r="1.6" fill="#c91613"/>
<circle cx="370.90" cy="313.70" r="1.6" fill="#c91613"/>
<circle cx="374.30" cy="313.40" r="1.6" fill="#c91613"/>
<circle cx="378.40" cy="313.00" r="1.6" fill="#c91613"/>
<circle cx="382.50" cy="312.30" r="1.6" fill="#c91613"/>
<circle cx="372.20" cy="316.10" r="1.6" fill="#c91613"/>
<circle cx="375.60" cy="315.80" r="1.6" fill="#c91613"/>
<circle cx="380.40" cy="316.80" r="1.6" fill="#c91613"/>
<circle cx="383.80" cy="316.10" r="1.6" fill="#c91613"/>
<circle cx="386.60" cy="314.70" r="1.6" fill="#c91613"/>
<circle cx="371.50" cy="320.20" r="1.6" fill="#c91613"/>
<circle cx="375.60" cy="319.50" r="1.6" fill="#c91613"/>
<circle cx="374.30" cy="323.60" r="1.6" fill="#c91613"/>
<circle cx="377.70" cy="322.20" r="1.6" fill="#c91613"/>
<circle cx="381.10" cy="321.50" r="1.6" fill="#c91613"/>
<circle cx="384.90" cy="322.20" r="1.6" fill="#c91613"/>
<circle cx="368.80" cy="326.70" r="1.6" fill="#c91613"/>
<circle cx="372.90" cy="328.40" r="1.6" fill="#c91613"/>
<circle cx="376.30" cy="327.70" r="1.6" fill="#c91613"/>
<circle cx="380.40" cy="327.70" r="1.6" fill="#c91613"/>
<circle cx="382.80" cy="328.00" r="1.6" fill="#c91613"/>
<circle cx="372.20" cy="331.80" r="1.6" fill="#c91613"/>
<circle cx="375.60" cy="331.10" r="1.6" fill="#c91613"/>
<circle cx="379.10" cy="332.50" r="1.6" fill="#c91613"/>
<circle cx="382.50" cy="331.10" r="1.6" fill="#c91613"/>
<circle cx="373.60" cy="334.50" r="1.6" fill="#c91613"/>
<circle cx="377.70" cy="334.50" r="1.6" fill="#c91613"/>
<circle cx="380.40" cy="334.50" r="1.6" fill="#c91613"/>
<circle cx="377.00" cy="337.20" r="1.6" fill="#c91613"/>
<circle cx="385.90" cy="336.60" r="1.6" fill="#c91613"/>
<circle cx="375.60" cy="341.30" r="1.6" fill="#c91613"/>
<circle cx="379.10" cy="341.00" r="1.6" fill="#c91613"/>
<circle cx="374.30" cy="343.00" r="1.6" fill="#c91613"/>
<circle cx="378.40" cy="344.70" r="1.6" fill="#c91613"/>
<circle cx="383.10" cy="344.10" r="1.6" fill="#c91613"/>
<circle cx="376.30" cy="349.20" r="1.6" fill="#c91613"/>
<circle cx="388.60" cy="327.30" r="1.6" fill="#c91613"/>
<circle cx="393.00" cy="323.60" r="1.6" fill="#c91613"/>
<circle cx="394.10" cy="328.00" r="1.6" fill="#c91613"/>
<circle cx="392.70" cy="331.10" r="1.6" fill="#c91613"/>
<circle cx="396.10" cy="318.10" r="1.6" fill="#c91613"/>
<circle cx="384.80" cy="297.50" r="1.6" fill="#c91613"/>
<circle cx="396.30" cy="297.80" r="1.6" fill="#c91613"/>
<circle cx="396.80" cy="301.90" r="1.6" fill="#c91613"/>
<circle cx="393.20" cy="302.90" r="1.6" fill="#c91613"/>
<circle cx="393.20" cy="306.00" r="1.6" fill="#c91613"/>
<circle cx="391.70" cy="309.10" r="1.6" fill="#c91613"/>
<circle cx="394.30" cy="309.10" r="1.6" fill="#c91613"/>
<circle cx="383.50" cy="311.60" r="1.6" fill="#c91613"/>
<circle cx="386.60" cy="314.70" r="1.6" fill="#c91613"/>
<circle cx="385.00" cy="316.80" r="1.6" fill="#c91613"/>
<circle cx="397.80" cy="316.30" r="1.6" fill="#c91613"/>
<circle cx="396.30" cy="318.30" r="1.6" fill="#c91613"/>
<circle cx="384.50" cy="322.40" r="1.6" fill="#c91613"/>
<circle cx="393.20" cy="323.40" r="1.6" fill="#c91613"/>
<circle cx="388.60" cy="327.50" r="1.6" fill="#c91613"/>
<circle cx="383.50" cy="328.00" r="1.6" fill="#c91613"/>
<circle cx="393.80" cy="327.50" r="1.6" fill="#c91613"/>
<circle cx="394.30" cy="328.50" r="1.6" fill="#c91613"/>
<circle cx="392.70" cy="331.10" r="1.6" fill="#c91613"/>
<circle cx="383.50" cy="331.10" r="1.6" fill="#c91613"/>
<circle cx="386.10" cy="336.70" r="1.6" fill="#c91613"/>
<circle cx="405.00" cy="339.30" r="1.6" fill="#c91613"/>
<circle cx="372.37" cy="304.77" r="1.6" fill="#c91613"/>
<circle cx="377.36" cy="303.70" r="1.6" fill="#c91613"/>
<circle cx="371.50" cy="306.38" r="1.6" fill="#c91613"/>
<circle cx="379.82" cy="305.82" r="1.6" fill="#c91613"/>
<circle cx="372.04" cy="309.31" r="1.6" fill="#c91613"/>
<circle cx="373.92" cy="309.36" r="1.6" fill="#c91613"/>
<circle cx="378.33" cy="307.86" r="1.6" fill="#c91613"/>
<circle cx="374.30" cy="309.93" r="1.6" fill="#c91613"/>
<circle cx="376.28" cy="310.27" r="1.6" fill="#c91613"/>
<circle cx="377.55" cy="309.71" r="1.6" fill="#c91613"/>
<circle cx="373.54" cy="312.17" r="1.6" fill="#c91613"/>
<circle cx="375.88" cy="312.14" r="1.6" fill="#c91613"/>
<circle cx="378.63" cy="312.04" r="1.6" fill="#c91613"/>
<circle cx="371.52" cy="315.18" r="1.6" fill="#c91613"/>
<circle cx="373.39" cy="315.36" r="1.6" fill="#c91613"/>
<circle cx="378.84" cy="313.87" r="1.6" fill="#c91613"/>
<circle cx="379.84" cy="314.80" r="1.6" fill="#c91613"/>
<circle cx="371.55" cy="317.18" r="1.6" fill="#c91613"/>
<circle cx="374.07" cy="316.67" r="1.6" fill="#c91613"/>
<circle cx="375.94" cy="317.11" r="1.6" fill="#c91613"/>
<circle cx="378.27" cy="316.80" r="1.6" fill="#c91613"/>
<circle cx="371.67" cy="318.76" r="1.6" fill="#c91613"/>
<circle cx="374.19" cy="318.11" r="1.6" fill="#c91613"/>
<circle cx="376.21" cy="317.64" r="1.6" fill="#c91613"/>
<circle cx="372.29" cy="319.81" r="1.6" fill="#c91613"/>
<circle cx="375.67" cy="319.83" r="1.6" fill="#c91613"/>
<circle cx="377.30" cy="321.17" r="1.6" fill="#c91613"/>
<circle cx="379.70" cy="320.59" r="1.6" fill="#c91613"/>
<circle cx="374.97" cy="323.16" r="1.6" fill="#c91613"/>
<circle cx="376.55" cy="322.25" r="1.6" fill="#c91613"/>
<circle cx="379.82" cy="321.87" r="1.6" fill="#c91613"/>
<circle cx="380.82" cy="322.02" r="1.6" fill="#c91613"/>
<circle cx="374.56" cy="324.07" r="1.6" fill="#c91613"/>
<circle cx="376.55" cy="324.26" r="1.6" fill="#c91613"/>
<circle cx="379.82" cy="324.84" r="1.6" fill="#c91613"/>
<circle cx="381.51" cy="324.82" r="1.6" fill="#c91613"/>
<circle cx="374.88" cy="327.00" r="1.6" fill="#c91613"/>
<circle cx="376.99" cy="326.31" r="1.6" fill="#c91613"/>
<circle cx="378.04" cy="326.74" r="1.6" fill="#c91613"/>
<circle cx="380.28" cy="325.98" r="1.6" fill="#c91613"/>
<circle cx="372.90" cy="327.69" r="1.6" fill="#c91613"/>
<circle cx="374.86" cy="327.78" r="1.6" fill="#c91613"/>
<circle cx="376.93" cy="329.17" r="1.6" fill="#c91613"/>
<circle cx="379.45" cy="328.05" r="1.6" fill="#c91613"/>
<circle cx="372.36" cy="329.82" r="1.6" fill="#c91613"/>
<circle cx="375.79" cy="330.44" r="1.6" fill="#c91613"/>
<circle cx="376.45" cy="329.78" r="1.6" fill="#c91613"/>
<circle cx="379.08" cy="331.09" r="1.6" fill="#c91613"/>
<circle cx="371.74" cy="333.31" r="1.6" fill="#c91613"/>
<circle cx="374.26" cy="332.58" r="1.6" fill="#c91613"/>
<circle cx="377.25" cy="333.36" r="1.6" fill="#c91613"/>
<circle cx="373.34" cy="334.07" r="1.6" fill="#c91613"/>
<circle cx="374.69" cy="334.99" r="1.6" fill="#c91613"/>
<circle cx="378.09" cy="334.19" r="1.6" fill="#c91613"/>
<circle cx="374.20" cy="337.37" r="1.6" fill="#c91613"/>
<circle cx="376.49" cy="337.07" r="1.6" fill="#c91613"/>
<circle cx="377.75" cy="336.53" r="1.6" fill="#c91613"/>
<circle cx="373.44" cy="337.65" r="1.6" fill="#c91613"/>
<circle cx="376.15" cy="338.85" r="1.6" fill="#c91613"/>
<circle cx="378.79" cy="339.29" r="1.6" fill="#c91613"/>
<circle cx="375.75" cy="340.26" r="1.6" fill="#c91613"/>
<circle cx="376.74" cy="339.95" r="1.6" fill="#c91613"/>
<circle cx="377.59" cy="343.11" r="1.6" fill="#c91613"/>
<circle cx="394.50" cy="288.70" r="1.75" fill="#2c2387"/>
<circle cx="409.50" cy="288.70" r="1.75" fill="#2c2387"/>
<circle cx="416.90" cy="288.70" r="1.75" fill="#2c2387"/>
<circle cx="427.40" cy="288.70" r="1.75" fill="#2c2387"/>
<circle cx="435.40" cy="288.70" r="1.75" fill="#2c2387"/>
<circle cx="441.50" cy="288.70" r="1.75" fill="#2c2387"/>
<circle cx="448.90" cy="288.70" r="1.75" fill="#2c2387"/>
<circle cx="450.80" cy="288.70" r="1.75" fill="#2c2387"/>
<circle cx="456.50" cy="288.70" r="1.75" fill="#2c2387"/>
<circle cx="430.30" cy="295.10" r="1.75" fill="#2c2387"/>
<circle cx="440.30" cy="298.20" r="1.75" fill="#2c2387"/>
<circle cx="431.80" cy="313.40" r="1.75" fill="#2c2387"/>
<circle cx="456.20" cy="314.60" r="1.75" fill="#2c2387"/>
<circle cx="461.80" cy="316.20" r="1.75" fill="#2c2387"/>
<circle cx="458.50" cy="319.20" r="1.75" fill="#2c2387"/>
<circle cx="453.80" cy="321.50" r="1.75" fill="#2c2387"/>
<circle cx="438.20" cy="323.50" r="1.75" fill="#2c2387"/>
<circle cx="441.20" cy="327.20" r="1.75" fill="#2c2387"/>
<circle cx="453.40" cy="328.00" r="1.75" fill="#2c2387"/>
<circle cx="423.10" cy="334.50" r="1.75" fill="#2c2387"/>
<circle cx="446.90" cy="336.60" r="1.75" fill="#2c2387"/>
<circle cx="452.00" cy="336.60" r="1.75" fill="#2c2387"/>
<circle cx="457.70" cy="334.20" r="1.75" fill="#2c2387"/>
<circle cx="466.60" cy="336.20" r="1.75" fill="#2c2387"/>
<text x="4.30" y="408.10" font-size="12" font-weight="bold" text-anchor="start" fill="#000" >E</text>
<line x1="67.10" y1="418.50" x2="67.10" y2="547.40" stroke="#000" stroke-width="1.5" />
<line x1="63.00" y1="546.70" x2="219.40" y2="546.70" stroke="#000" stroke-width="1.5" />
<line x1="61.30" y1="419.00" x2="67.10" y2="419.00" stroke="#000" stroke-width="1.5" />
<text x="58.00" y="422.20" font-size="9.0" font-weight="bold" text-anchor="end" fill="#000" >10,000</text>
<line x1="61.30" y1="461.57" x2="67.10" y2="461.57" stroke="#000" stroke-width="1.5" />
<text x="58.00" y="464.77" font-size="9.0" font-weight="bold" text-anchor="end" fill="#000" >1,000</text>
<line x1="61.30" y1="504.14" x2="67.10" y2="504.14" stroke="#000" stroke-width="1.5" />
<text x="58.00" y="507.34" font-size="9.0" font-weight="bold" text-anchor="end" fill="#000" >100</text>
<line x1="61.30" y1="546.71" x2="67.10" y2="546.71" stroke="#000" stroke-width="1.5" />
<text x="58.00" y="549.91" font-size="9.0" font-weight="bold" text-anchor="end" fill="#000" >10</text>
<line x1="110.40" y1="546.70" x2="110.40" y2="552.60" stroke="#000" stroke-width="1.5" />
<line x1="175.40" y1="546.70" x2="175.40" y2="552.60" stroke="#000" stroke-width="1.5" />
<text transform="translate(24.00,482.00) rotate(-90)" font-size="8.8" font-weight="bold" text-anchor="middle" fill="#000">Mutation rate</text>
<text x="108.30" y="563.90" font-size="7.45" font-weight="bold" text-anchor="middle" fill="#000" >Sensitive</text>
<text x="108.30" y="573.20" font-size="7.45" font-weight="bold" text-anchor="middle" fill="#000" >Colorectal cancer</text>
<text x="108.3" y="582.7" font-size="7.45" font-weight="bold" text-anchor="middle" fill="#000">IC<tspan font-size="5.6" font-weight="normal" dy="2">50</tspan><tspan dy="-2"> &lt; 1 <tspan font-weight="normal">μ</tspan>mol/L</tspan></text>
<text x="175.40" y="563.90" font-size="7.45" font-weight="bold" text-anchor="middle" fill="#000" >Insensitive</text>
<text x="175.40" y="573.20" font-size="7.45" font-weight="bold" text-anchor="middle" fill="#000" >Colorectal cancer</text>
<text x="175.4" y="582.7" font-size="7.45" font-weight="bold" text-anchor="middle" fill="#000">IC<tspan font-size="5.6" font-weight="normal" dy="2">50</tspan><tspan dy="-2"> &gt; 1 <tspan font-weight="normal">μ</tspan>mol/L</tspan></text>
<line x1="110.20" y1="447.70" x2="110.20" y2="466.60" stroke="#000" stroke-width="1.3" />
<line x1="99.20" y1="447.70" x2="121.50" y2="447.70" stroke="#000" stroke-width="1.3" />
<line x1="110.20" y1="498.00" x2="110.20" y2="503.80" stroke="#000" stroke-width="1.3" />
<line x1="99.20" y1="503.80" x2="121.50" y2="503.80" stroke="#000" stroke-width="1.3" />
<rect x="89.20" y="466.60" width="42.00" height="31.40" fill="#9d97c7" stroke="#000" stroke-width="1.3"/>
<line x1="88.70" y1="473.80" x2="131.70" y2="473.80" stroke="#000" stroke-width="1.3" />
<circle cx="110.20" cy="447.70" r="2.0" fill="#2c2387"/>
<circle cx="110.20" cy="460.80" r="2.0" fill="#2c2387"/>
<circle cx="118.10" cy="465.00" r="2.0" fill="#2c2387"/>
<circle cx="102.60" cy="468.00" r="2.0" fill="#2c2387"/>
<circle cx="110.20" cy="468.90" r="2.0" fill="#2c2387"/>
<circle cx="102.60" cy="475.80" r="2.0" fill="#2c2387"/>
<circle cx="110.20" cy="473.10" r="2.0" fill="#2c2387"/>
<circle cx="118.10" cy="474.20" r="2.0" fill="#2c2387"/>
<circle cx="110.20" cy="494.50" r="2.0" fill="#2c2387"/>
<circle cx="110.20" cy="500.80" r="2.0" fill="#2c2387"/>
<circle cx="102.60" cy="503.80" r="2.0" fill="#2c2387"/>
<circle cx="118.10" cy="503.80" r="2.0" fill="#2c2387"/>
<line x1="175.30" y1="467.30" x2="175.30" y2="492.50" stroke="#000" stroke-width="1.3" />
<line x1="164.20" y1="467.30" x2="186.60" y2="467.30" stroke="#000" stroke-width="1.3" />
<line x1="175.30" y1="504.90" x2="175.30" y2="507.70" stroke="#000" stroke-width="1.3" />
<line x1="164.20" y1="507.70" x2="186.60" y2="507.70" stroke="#000" stroke-width="1.3" />
<rect x="154.30" y="492.50" width="42.20" height="12.40" fill="#e28c87" stroke="#000" stroke-width="1.3"/>
<line x1="153.80" y1="501.90" x2="197.00" y2="501.90" stroke="#000" stroke-width="1.3" />
<circle cx="175.30" cy="467.30" r="2.0" fill="#c91613"/>
<circle cx="175.30" cy="471.90" r="2.0" fill="#c91613"/>
<circle cx="175.30" cy="478.80" r="2.0" fill="#c91613"/>
<circle cx="175.30" cy="488.10" r="2.0" fill="#c91613"/>
<circle cx="172.30" cy="493.40" r="2.0" fill="#c91613"/>
<circle cx="178.10" cy="496.60" r="2.0" fill="#c91613"/>
<circle cx="189.60" cy="499.60" r="2.0" fill="#c91613"/>
<circle cx="155.70" cy="504.20" r="2.0" fill="#c91613"/>
<circle cx="161.20" cy="501.90" r="2.0" fill="#c91613"/>
<circle cx="161.20" cy="505.80" r="2.0" fill="#c91613"/>
<circle cx="167.20" cy="504.90" r="2.0" fill="#c91613"/>
<circle cx="172.30" cy="500.30" r="2.0" fill="#c91613"/>
<circle cx="172.30" cy="505.80" r="2.0" fill="#c91613"/>
<circle cx="178.10" cy="504.90" r="2.0" fill="#c91613"/>
<circle cx="183.90" cy="501.90" r="2.0" fill="#c91613"/>
<circle cx="183.90" cy="508.20" r="2.0" fill="#c91613"/>
<circle cx="189.60" cy="504.90" r="2.0" fill="#c91613"/>
<circle cx="194.90" cy="501.90" r="2.0" fill="#c91613"/>
<polyline points="110.20,440.30 110.20,432.50 175.30,432.50 175.30,459.70" fill="none" stroke="#000" stroke-width="1.35"/>
<line x1="138.70" y1="420.00" x2="138.70" y2="425.80" stroke="#000" stroke-width="1.4" />
<line x1="136.19" y1="421.45" x2="141.21" y2="424.35" stroke="#000" stroke-width="1.4" />
<line x1="136.19" y1="424.35" x2="141.21" y2="421.45" stroke="#000" stroke-width="1.4" />
<line x1="146.90" y1="420.00" x2="146.90" y2="425.80" stroke="#000" stroke-width="1.4" />
<line x1="144.39" y1="421.45" x2="149.41" y2="424.35" stroke="#000" stroke-width="1.4" />
<line x1="144.39" y1="424.35" x2="149.41" y2="421.45" stroke="#000" stroke-width="1.4" />
<text x="260.70" y="408.10" font-size="12" font-weight="bold" text-anchor="start" fill="#000" >F</text>
<line x1="301.50" y1="419.10" x2="301.50" y2="547.40" stroke="#000" stroke-width="1.5" />
<line x1="296.20" y1="546.70" x2="454.80" y2="546.70" stroke="#000" stroke-width="1.5" />
<line x1="295.70" y1="419.60" x2="301.50" y2="419.60" stroke="#000" stroke-width="1.5" />
<text x="291.90" y="422.80" font-size="9.0" font-weight="bold" text-anchor="end" fill="#000" >100</text>
<line x1="295.70" y1="451.38" x2="301.50" y2="451.38" stroke="#000" stroke-width="1.5" />
<text x="291.90" y="454.58" font-size="9.0" font-weight="bold" text-anchor="end" fill="#000" >10</text>
<line x1="295.70" y1="483.16" x2="301.50" y2="483.16" stroke="#000" stroke-width="1.5" />
<text x="291.90" y="486.36" font-size="9.0" font-weight="bold" text-anchor="end" fill="#000" >1</text>
<line x1="295.70" y1="514.94" x2="301.50" y2="514.94" stroke="#000" stroke-width="1.5" />
<text x="291.90" y="518.14" font-size="9.0" font-weight="bold" text-anchor="end" fill="#000" >0.1</text>
<line x1="295.70" y1="546.72" x2="301.50" y2="546.72" stroke="#000" stroke-width="1.5" />
<text x="291.90" y="549.92" font-size="9.0" font-weight="bold" text-anchor="end" fill="#000" >0.01</text>
<line x1="345.00" y1="546.70" x2="345.00" y2="552.60" stroke="#000" stroke-width="1.5" />
<line x1="410.60" y1="546.70" x2="410.60" y2="552.60" stroke="#000" stroke-width="1.5" />
<text transform="translate(260.70,482.50) rotate(-90)" font-size="8.9" font-weight="bold" text-anchor="middle" fill="#000">Proliferation ATX968,</text>
<text transform="translate(270,481.5) rotate(-90)" font-size="8.9" font-weight="bold" text-anchor="middle" fill="#000">IC<tspan font-size="6.6" font-weight="normal" dy="2.4">50</tspan><tspan dy="-2.4"> (<tspan font-weight="normal">μ</tspan>mol/L)</tspan></text>
<text x="345.10" y="563.70" font-size="7.05" font-weight="bold" text-anchor="middle" fill="#000" >dMMR</text>
<text x="345.10" y="572.70" font-size="7.05" font-weight="bold" text-anchor="middle" fill="#000" >Colorectal cancer</text>
<text x="345.10" y="581.40" font-size="7.05" font-weight="bold" text-anchor="middle" fill="#000" >cells</text>
<text x="410.60" y="563.70" font-size="7.05" font-weight="bold" text-anchor="middle" fill="#000" >pMMR</text>
<text x="410.60" y="572.70" font-size="7.05" font-weight="bold" text-anchor="middle" fill="#000" >Colorectal cancer</text>
<text x="410.60" y="581.40" font-size="7.05" font-weight="bold" text-anchor="middle" fill="#000" >cells</text>
<circle cx="466.50" cy="419.90" r="3.6" fill="#2c2387"/>
<text x="472.80" y="423.20" font-size="7.7" font-weight="normal" text-anchor="start" fill="#000" >MSI/dMMR</text>
<circle cx="466.50" cy="435.80" r="3.1" fill="#fff" stroke="#000" stroke-width="1.5"/>
<text x="472.80" y="439.20" font-size="7.7" font-weight="normal" text-anchor="start" fill="#000" >MSS/dMMR</text>
<circle cx="466.50" cy="451.50" r="3.6" fill="#c91613"/>
<text x="472.80" y="455.00" font-size="7.7" font-weight="normal" text-anchor="start" fill="#000" >MSS/pMMR</text>
<line x1="345.10" y1="451.20" x2="345.10" y2="482.30" stroke="#000" stroke-width="1.3" />
<line x1="333.80" y1="451.20" x2="356.60" y2="451.20" stroke="#000" stroke-width="1.3" />
<line x1="345.10" y1="504.30" x2="345.10" y2="508.00" stroke="#000" stroke-width="1.3" />
<line x1="333.80" y1="508.00" x2="356.60" y2="508.00" stroke="#000" stroke-width="1.3" />
<rect x="323.40" y="482.30" width="43.20" height="22.00" fill="#9d97c7" stroke="#000" stroke-width="1.3"/>
<line x1="322.90" y1="493.10" x2="367.10" y2="493.10" stroke="#000" stroke-width="1.3" />
<circle cx="345.10" cy="479.20" r="2.3" fill="#2c2387"/>
<circle cx="337.40" cy="493.10" r="2.3" fill="#2c2387"/>
<circle cx="345.10" cy="493.10" r="2.3" fill="#2c2387"/>
<circle cx="352.80" cy="488.50" r="2.3" fill="#2c2387"/>
<circle cx="352.80" cy="493.10" r="2.3" fill="#2c2387"/>
<circle cx="345.10" cy="498.50" r="2.3" fill="#2c2387"/>
<circle cx="337.40" cy="504.60" r="2.3" fill="#2c2387"/>
<circle cx="352.80" cy="505.40" r="2.3" fill="#2c2387"/>
<circle cx="329.70" cy="507.70" r="2.3" fill="#2c2387"/>
<circle cx="345.10" cy="507.70" r="2.3" fill="#2c2387"/>
<circle cx="360.50" cy="508.00" r="2.3" fill="#2c2387"/>
<circle cx="341.10" cy="451.20" r="1.9" fill="#fff" stroke="#000" stroke-width="1.15"/>
<circle cx="348.80" cy="451.20" r="1.9" fill="#fff" stroke="#000" stroke-width="1.15"/>
<circle cx="352.80" cy="476.60" r="1.9" fill="#fff" stroke="#000" stroke-width="1.15"/>
<circle cx="337.40" cy="482.80" r="1.9" fill="#fff" stroke="#000" stroke-width="1.15"/>
<circle cx="345.10" cy="483.80" r="1.9" fill="#fff" stroke="#000" stroke-width="1.15"/>
<circle cx="329.70" cy="490.50" r="1.9" fill="#fff" stroke="#000" stroke-width="1.15"/>
<circle cx="345.10" cy="502.30" r="1.9" fill="#fff" stroke="#000" stroke-width="1.15"/>
<line x1="410.40" y1="485.20" x2="410.40" y2="501.50" stroke="#000" stroke-width="1.3" />
<line x1="399.30" y1="501.50" x2="421.80" y2="501.50" stroke="#000" stroke-width="1.3" />
<rect x="389.00" y="451.60" width="42.70" height="33.60" fill="#e28c87" stroke="#000" stroke-width="1.3"/>
<line x1="388.50" y1="462.10" x2="432.20" y2="462.10" stroke="#000" stroke-width="1.3" />
<circle cx="390.60" cy="451.20" r="2.35" fill="#c91613"/>
<circle cx="397.10" cy="451.20" r="2.35" fill="#c91613"/>
<circle cx="403.90" cy="451.20" r="2.35" fill="#c91613"/>
<circle cx="410.40" cy="451.20" r="2.35" fill="#c91613"/>
<circle cx="417.20" cy="451.20" r="2.35" fill="#c91613"/>
<circle cx="423.80" cy="451.20" r="2.35" fill="#c91613"/>
<circle cx="430.50" cy="451.20" r="2.35" fill="#c91613"/>
<circle cx="410.40" cy="462.10" r="2.35" fill="#c91613"/>
<circle cx="410.40" cy="472.50" r="2.35" fill="#c91613"/>
<circle cx="403.90" cy="475.40" r="2.35" fill="#c91613"/>
<circle cx="417.20" cy="474.90" r="2.35" fill="#c91613"/>
<circle cx="410.40" cy="485.70" r="2.35" fill="#c91613"/>
<circle cx="410.40" cy="490.00" r="2.35" fill="#c91613"/>
<circle cx="413.80" cy="498.80" r="2.35" fill="#c91613"/>
<circle cx="407.00" cy="501.50" r="2.35" fill="#c91613"/>
<polyline points="345.00,444.00 345.00,435.50 410.40,435.50 410.40,444.00" fill="none" stroke="#000" stroke-width="1.35"/>
<line x1="373.80" y1="423.60" x2="373.80" y2="429.60" stroke="#000" stroke-width="1.4" />
<line x1="371.20" y1="425.10" x2="376.40" y2="428.10" stroke="#000" stroke-width="1.4" />
<line x1="371.20" y1="428.10" x2="376.40" y2="425.10" stroke="#000" stroke-width="1.4" />
<line x1="382.00" y1="423.60" x2="382.00" y2="429.60" stroke="#000" stroke-width="1.4" />
<line x1="379.40" y1="425.10" x2="384.60" y2="428.10" stroke="#000" stroke-width="1.4" />
<line x1="379.40" y1="428.10" x2="384.60" y2="425.10" stroke="#000" stroke-width="1.4" />
</svg></body></html>
